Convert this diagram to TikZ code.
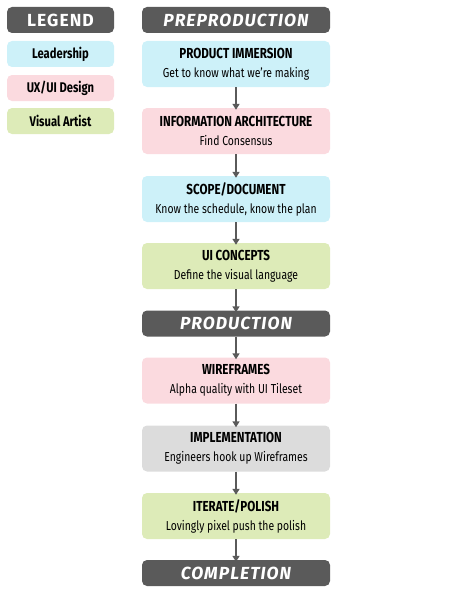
\documentclass[tikz,border=0pt]{standalone}
\usepackage{fontspec}
\setmainfont{Fira Sans}
\newfontfamily\condfont{Fira Sans}[FakeStretch=0.80]
\newfontfamily\headfont{Fira Sans}[LetterSpace=6]
\usetikzlibrary{arrows.meta}
\definecolor{lead}{HTML}{CDF1F9}
\definecolor{uxui}{HTML}{FBDADF}
\definecolor{visual}{HTML}{DDEBB8}
\definecolor{eng}{HTML}{DCDCDC}
\definecolor{dark}{HTML}{5A5A5A}
\tikzset{
  box/.style={rounded corners=5pt, minimum width=188pt, minimum height=46pt, align=center, inner sep=0pt,
    font=\condfont\fontsize{13}{19}\selectfont},
  legbox/.style={rounded corners=5pt, minimum width=107pt, minimum height=26pt, inner sep=0pt,
    font=\condfont\bfseries\fontsize{14}{15}\selectfont},
  head/.style={rounded corners=5pt, fill=dark, text=white, inner sep=0pt,
    font=\headfont\bfseries\itshape\fontsize{17.5}{18}\selectfont},
  flow/.style={draw=dark, line width=1.5pt, -{Triangle[width=7pt,length=6pt]}}
}
\newcommand{\ttl}[1]{{\bfseries\fontsize{14.5}{19}\selectfont #1}}
\begin{document}
\begin{tikzpicture}[x=1pt,y=-1pt]
\useasboundingbox (0,0) rectangle (474,594);
% legend
\node[head, minimum width=107pt, minimum height=26pt, font=\headfont\bfseries\fontsize{17.5}{18}\selectfont] (legend) at (60.5,20) {LEGEND};
\node[legbox, fill=lead] (lgL) at (60.5,54) {Leadership};
\node[legbox, fill=uxui] (lgU) at (60.5,88) {UX/UI Design};
\node[legbox, fill=visual] (lgV) at (60.5,121) {Visual Artist};
% flow
\node[head, minimum width=188pt, minimum height=26pt] (pre) at (236,20) {PREPRODUCTION};
\node[box, fill=lead] (pi) at (236,64) {\ttl{PRODUCT IMMERSION}\\Get to know what we’re making};
\node[box, fill=uxui] (ia) at (236,131) {\ttl{INFORMATION ARCHITECTURE}\\Find Consensus};
\node[box, fill=lead] (sd) at (236,199) {\ttl{SCOPE/DOCUMENT}\\Know the schedule, know the plan};
\node[box, fill=visual] (uc) at (236,266) {\ttl{UI CONCEPTS}\\Define the visual language};
\node[head, minimum width=188pt, minimum height=26pt] (prod) at (236,323.5) {PRODUCTION};
\node[box, fill=uxui] (wf) at (236,380.5) {\ttl{WIREFRAMES}\\Alpha quality with UI Tileset};
\node[box, fill=eng] (im) at (236,448.5) {\ttl{IMPLEMENTATION}\\Engineers hook up Wireframes};
\node[box, fill=visual] (it) at (236,516) {\ttl{ITERATE/POLISH}\\Lovingly pixel push the polish};
\node[head, minimum width=188pt, minimum height=26pt] (comp) at (236,573) {COMPLETION};
% arrows
\draw[flow] (pi.south) -- ([yshift=-2pt]ia.north);
\draw[flow] (ia.south) -- ([yshift=-2pt]sd.north);
\draw[flow] (sd.south) -- ([yshift=-2pt]uc.north);
\draw[flow] (uc.south) -- ([yshift=-2pt]prod.north);
\draw[flow] (prod.south) -- ([yshift=-2pt]wf.north);
\draw[flow] (wf.south) -- ([yshift=-2pt]im.north);
\draw[flow] (im.south) -- ([yshift=-2pt]it.north);
\draw[flow] (it.south) -- ([yshift=-2pt]comp.north);
\end{tikzpicture}
\end{document}
